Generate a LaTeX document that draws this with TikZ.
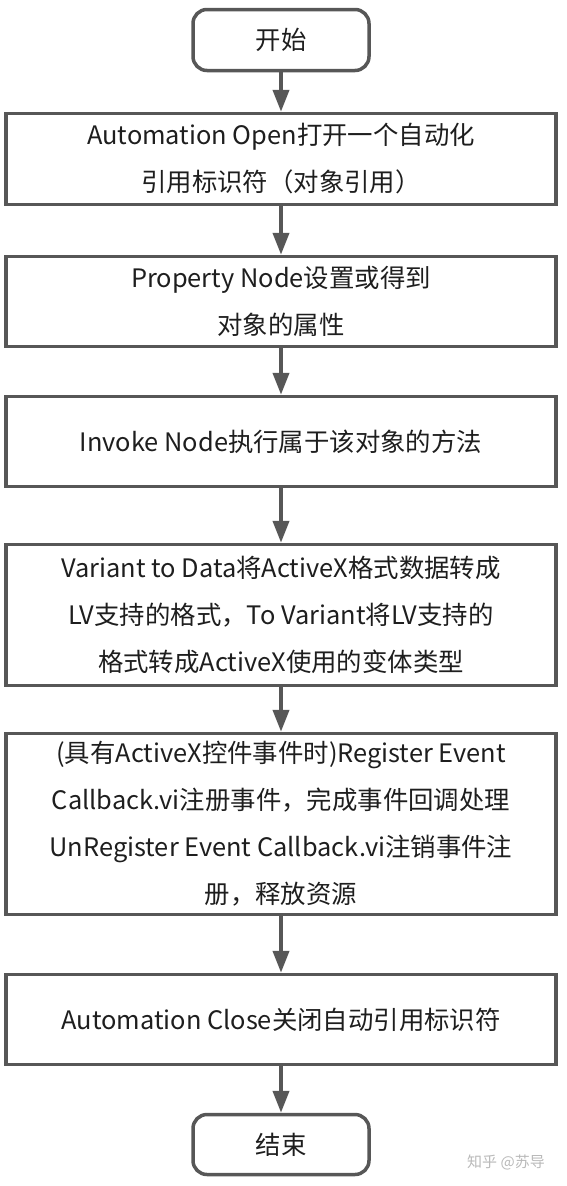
\documentclass[tikz,border=0pt]{standalone}
\usepackage{fontspec}
\setmainfont{Noto Sans CJK SC}
\usetikzlibrary{positioning,arrows.meta}
\definecolor{linegray}{HTML}{575757}
\definecolor{textgray}{HTML}{1E1E1E}
\tikzstyle{every node}+=[inner sep=0pt,text=textgray,font=\fontsize{25.4}{47}\selectfont]
\tikzstyle{stepbox}=[draw=linegray,line width=3.5pt,minimum width=550pt,minimum height=90pt,align=center]
\tikzstyle{endbox}=[stepbox,rounded corners=14pt,minimum width=176pt,minimum height=61pt]
\tikzstyle{flow}=[draw=linegray,line width=4pt,-{Triangle[length=22pt,width=16pt]}]
\newcommand{\drawflow}[2][\empty]{
	\foreach \a/\b in {#2}{
		\draw[#1] (\a) -- (\b);
	}
}

\begin{document}
\begin{tikzpicture}[x=1pt,y=1pt]
\useasboundingbox (0,0) rectangle (566,-1186);

\node [endbox] (start) at (281,-40) {开始};
\node [stepbox,minimum height=91pt,below=39.5pt of start] (open) {Automation Open打开一个自动化\\引用标识符（对象引用）};
\node [stepbox,below=48.5pt of open] (prop) {Property Node设置或得到\\对象的属性};
\node [stepbox,below=46.5pt of prop] (invoke) {Invoke Node执行属于该对象的方法};
\node [stepbox,minimum height=141pt,below=54.5pt of invoke] (variant) {Variant to Data将ActiveX格式数据转成\\LV支持的格式，To Variant将LV支持的\\格式转成ActiveX使用的变体类型};
\node [stepbox,minimum height=181pt,below=44.5pt of variant] (event) {(具有ActiveX控件事件时)Register Event\\Callback.vi注册事件，完成事件回调处理\\UnRegister Event Callback.vi注销事件注\\册，释放资源};
\node [stepbox,below=56.5pt of event] (close) {Automation Close关闭自动引用标识符};
\node [endbox,minimum height=60pt,below=46.5pt of close] (stop) {结束};

\drawflow[flow]{start/open,open/prop,prop/invoke,invoke/variant,variant/event,event/close,close/stop}

\node [text=gray!55,font=\fontsize{15}{15}\selectfont] (mark) at (506,-1162) {知乎 @苏导};
\end{tikzpicture}
\end{document}
